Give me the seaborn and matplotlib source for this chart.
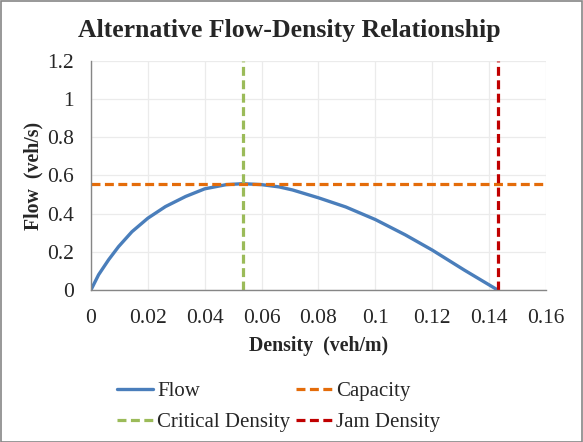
import numpy as np
import pandas as pd
import matplotlib
matplotlib.use("Agg")
import matplotlib.pyplot as plt
import seaborn as sns

# values
density = [0, 0.0027, 0.0062, 0.0097, 0.0144, 0.02, 0.0262, 0.0333, 0.04, 0.0476,
           0.0534, 0.06, 0.0662, 0.0709, 0.08, 0.0896, 0.1, 0.1105, 0.12, 0.1313, 0.143]
flow = [0, 0.080, 0.158, 0.227, 0.305, 0.376, 0.437, 0.490, 0.530, 0.552,
        0.557, 0.552, 0.540, 0.524, 0.483, 0.435, 0.369, 0.289, 0.209, 0.104, 0]
capacity = 0.557
critical_density = 0.0534
jam_density = 0.143
x_ticks = [0, 0.02, 0.04, 0.06, 0.08, 0.1, 0.12, 0.14, 0.16]
x_labels = ["0", "0.02", "0.04", "0.06", "0.08", "0.1", "0.12", "0.14", "0.16"]
y_ticks = [0, 0.2, 0.4, 0.6, 0.8, 1.0, 1.2]
y_labels = ["0", "0.2", "0.4", "0.6", "0.8", "1", "1.2"]

sns.set_style("white")
plt.rcParams["font.family"] = ["Liberation Serif", "DejaVu Serif"]

df = pd.DataFrame({"Density": density, "Flow": flow})

fig = plt.figure(figsize=(5.83, 4.42), dpi=100)
ax = fig.add_axes([0.156, 0.344, 0.7805, 0.518])

ax.set_xlim(0, 0.16)
ax.set_ylim(0, 1.2)
ax.set_xticks(x_ticks)
ax.set_xticklabels(x_labels)
ax.set_yticks(y_ticks)
ax.set_yticklabels(y_labels)
ax.grid(True, color="#ebebeb", linewidth=0.9)
ax.set_axisbelow(True)

dash = (0, (2.8, 1.4))
sns.lineplot(data=df, x="Density", y="Flow", ax=ax, color="#4a7ebb",
             linewidth=2.4, label="Flow", sort=False)
ax.axhline(capacity, color="#e46c0a", linestyle=dash, linewidth=2.3, label="Capacity")
ax.axvline(critical_density, color="#9bbb59", linestyle=dash, linewidth=2.3, label="Critical Density")
ax.axvline(jam_density, color="#c00000", linestyle=dash, linewidth=2.3, label="Jam Density")

for side in ["top", "right"]:
    ax.spines[side].set_visible(False)
for side in ["left", "bottom"]:
    ax.spines[side].set_color("#868686")
    ax.spines[side].set_linewidth(1.0)
ax.tick_params(axis="both", direction="out", length=6, width=1, color="#868686",
               labelsize=15.5)
ax.tick_params(axis="y", pad=6)
ax.tick_params(axis="x", pad=7.5)

ax.set_xlabel("Density  (veh/m)", fontsize=14.3, fontweight="bold", labelpad=6)
ax.set_ylabel("Flow  (veh/s)", fontsize=14.3, fontweight="bold", labelpad=3)
fig.text(0.497, 1 - 30 / 442, "Alternative Flow-Density Relationship", fontsize=18.5,
         fontweight="bold", ha="center", va="center")

handles, labels = ax.get_legend_handles_labels()
ax.get_legend().remove()
order = [0, 2, 1, 3]
fig.legend([handles[i] for i in order], [labels[i] for i in order],
           loc="upper left", bbox_to_anchor=(0.2, 0.137), ncol=2, frameon=False,
           fontsize=15, handlelength=1.75, handletextpad=0.2, columnspacing=0.25,
           labelspacing=0.55, borderaxespad=0, borderpad=0)

fig.patches.append(plt.Rectangle((0.001, 0.001), 0.997, 0.997, transform=fig.transFigure,
                                 fill=False, edgecolor="#868686", linewidth=1.2))

fig.savefig("out.png", dpi=100)
